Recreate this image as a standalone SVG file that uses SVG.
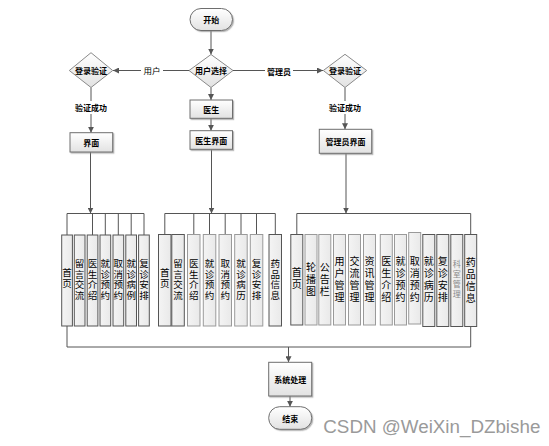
<svg xmlns="http://www.w3.org/2000/svg" width="549" height="446" viewBox="0 0 549 446">
<defs>
<linearGradient id="gBox" x1="0" y1="0" x2="0" y2="1"><stop offset="0" stop-color="#ffffff"/><stop offset="1" stop-color="#e2e2e2"/></linearGradient>
<linearGradient id="gCol" x1="0" y1="0" x2="1" y2="0"><stop offset="0" stop-color="#f4f4f4"/><stop offset="1" stop-color="#e9e9e9"/></linearGradient>
<filter id="sh" x="-20%" y="-20%" width="150%" height="150%"><feDropShadow dx="1.2" dy="1.2" stdDeviation="0.6" flood-color="#888" flood-opacity="0.6"/></filter>
<marker id="ar" markerWidth="6" markerHeight="6" refX="6" refY="3" orient="auto" markerUnits="userSpaceOnUse"><path d="M0,0 L6,3 L0,6 z" fill="#555"/></marker>
</defs>
<style>
.t{font-family:"Noto Sans CJK SC","Liberation Sans",sans-serif;font-size:8px;font-weight:bold;fill:#000;text-anchor:middle;dominant-baseline:central}
.l{font-family:"Noto Sans CJK SC","Liberation Sans",sans-serif;font-size:8px;font-weight:bold;fill:#000;text-anchor:middle;dominant-baseline:central}
.box{fill:url(#gBox);stroke:#6e6e6e;stroke-width:1;filter:url(#sh)}
.dia{fill:url(#gBox);stroke:#8a8a8a;stroke-width:1}
.col{fill:url(#gCol);stroke:#555;stroke-width:1}
.colg{fill:url(#gCol);stroke:#9a9a9a;stroke-width:1}
.v{font-family:"Noto Sans CJK SC","Liberation Sans",sans-serif;font-size:9.5px;letter-spacing:1px;fill:#000;text-anchor:middle;writing-mode:vertical-rl}
.w{font-family:"Noto Sans CJK SC","Liberation Sans",sans-serif;font-size:10px;letter-spacing:2px;fill:#000;text-anchor:middle;writing-mode:vertical-rl}
.c{fill:none;stroke:#555;stroke-width:1}
.ca{fill:none;stroke:#555;stroke-width:1;marker-end:url(#ar)}
</style>
<rect width="549" height="446" fill="#fff"/>
<g id="connectors">
<path class="ca" d="M211,30.5 V54.5"/>
<path class="ca" d="M189,70.5 H113"/>
<path class="ca" d="M233,70.5 H323"/>
<path class="ca" d="M211,87.5 V100"/>
<path class="ca" d="M211,118.3 V130.7"/>
<path class="ca" d="M211.5,149.3 V213.5"/>
<path class="ca" d="M91,87.5 V132.7"/>
<path class="ca" d="M90.5,152 V213.5"/>
<path class="ca" d="M345,87.5 V129.3"/>
<path class="ca" d="M346,153.3 V213.5"/>
<path class="c" d="M67,235 V213.5 H144 V235 M92.5,213.5 V235 M105.3,213.5 V235 M118.3,213.5 V235 M131.2,213.5 V235"/>
<path class="c" d="M164.8,234.5 V213.5 H275.3 V234.5 M193.8,213.5 V234.5 M209.5,213.5 V234.5 M225.2,213.5 V234.5 M241,213.5 V234.5 M256.5,213.5 V234.5"/>
<path class="c" d="M296.8,234.5 V213.5 H470.7 V234.5"/>
<path class="c" d="M67,326 V347 H470.7 V325"/>
<path class="ca" d="M288.5,347 V362.3"/>
<path class="ca" d="M290,396 V406.7"/>
<rect x="141" y="64" width="22" height="13" fill="#fff"/>
<text class="l" x="152" y="70" style="font-weight:normal;font-size:8.5px">用户</text>
<rect x="265" y="64" width="28" height="13" fill="#fff"/>
<text class="l" x="279" y="71">管理员</text>
<rect x="74" y="101" width="34" height="13" fill="#fff"/>
<text class="l" x="91" y="107.5">验证成功</text>
<rect x="328" y="101" width="34" height="13" fill="#fff"/>
<text class="l" x="345" y="107.5">验证成功</text>
</g>
<g id="start"><rect class="box" x="190" y="8.5" width="42.5" height="22" rx="11"/><text class="t" x="211.2" y="19.5">开始</text></g>
<g id="choose"><polygon class="dia" points="211,54.5 233,70.5 211,87.5 189,70.5"/><text class="t" x="211" y="70.5">用户选择</text></g>
<g id="login-user"><polygon class="dia" points="91,52.7 112.7,70.5 91,87.5 69.3,70.5"/><text class="t" x="91" y="70.5">登录验证</text></g>
<g id="login-admin"><polygon class="dia" points="345,54.3 366.7,70.5 345,87.5 323.3,70.5"/><text class="t" x="345" y="70.5">登录验证</text></g>
<g id="doctor"><rect class="box" x="190" y="100" width="42.5" height="18.3"/><text class="t" x="211.2" y="109">医生</text></g>
<g id="doctor-ui"><rect class="box" x="190" y="130.7" width="42.5" height="18.6"/><text class="t" x="211.2" y="140">医生界面</text></g>
<g id="user-ui"><rect class="box" x="70" y="132.7" width="42.7" height="19.3"/><text class="t" x="91.3" y="142.3">界面</text></g>
<g id="admin-ui"><rect class="box" x="319.3" y="129.3" width="52.4" height="24"/><text class="t" x="345.5" y="141.3">管理员界面</text></g>
<g id="user-cols">
<rect class="col" x="61.7" y="235" width="10.7" height="91"/><text class="v" x="67" y="278"><tspan>首</tspan><tspan>页</tspan></text>
<rect class="col" x="74.3" y="235" width="10.7" height="91"/><text class="v" x="79.6" y="280"><tspan>留</tspan><tspan>言</tspan><tspan>交</tspan><tspan>流</tspan></text>
<rect class="col" x="87.2" y="235" width="10.7" height="91"/><text class="v" x="92.5" y="280"><tspan>医</tspan><tspan>生</tspan><tspan>介</tspan><tspan>绍</tspan></text>
<rect class="col" x="100" y="235" width="10.7" height="91"/><text class="v" x="105.3" y="280"><tspan>就</tspan><tspan>诊</tspan><tspan>预</tspan><tspan>约</tspan></text>
<rect class="col" x="113" y="235" width="10.7" height="91"/><text class="v" x="118.3" y="280"><tspan>取</tspan><tspan>消</tspan><tspan>预</tspan><tspan>约</tspan></text>
<rect class="col" x="125.8" y="235" width="10.7" height="91"/><text class="v" x="131.2" y="280"><tspan>就</tspan><tspan>诊</tspan><tspan>病</tspan><tspan>例</tspan></text>
<rect class="col" x="138.6" y="235" width="10.7" height="91"/><text class="v" x="144" y="280"><tspan>复</tspan><tspan>诊</tspan><tspan>安</tspan><tspan>排</tspan></text>
</g>
<g id="doctor-cols">
<rect class="col" x="158.5" y="234.5" width="12.5" height="91.5"/><text class="v" x="164.8" y="278"><tspan>首</tspan><tspan>页</tspan></text>
<rect class="col" x="171.8" y="234.5" width="12.5" height="91.5"/><text class="v" x="178" y="280"><tspan>留</tspan><tspan>言</tspan><tspan>交</tspan><tspan>流</tspan></text>
<rect class="colg" x="187.5" y="234.5" width="12.5" height="91.5"/><text class="v" x="193.8" y="280"><tspan>医</tspan><tspan>生</tspan><tspan>介</tspan><tspan>绍</tspan></text>
<rect class="colg" x="203.3" y="234.5" width="12.5" height="91.5"/><text class="v" x="209.5" y="280"><tspan>就</tspan><tspan>诊</tspan><tspan>预</tspan><tspan>约</tspan></text>
<rect class="colg" x="219" y="234.5" width="12.5" height="91.5"/><text class="v" x="225.2" y="280"><tspan>取</tspan><tspan>消</tspan><tspan>预</tspan><tspan>约</tspan></text>
<rect class="colg" x="234.7" y="234.5" width="12.5" height="91.5"/><text class="v" x="241" y="280"><tspan>就</tspan><tspan>诊</tspan><tspan>病</tspan><tspan>历</tspan></text>
<rect class="colg" x="250.3" y="234.5" width="12.5" height="91.5"/><text class="v" x="256.5" y="280"><tspan>复</tspan><tspan>诊</tspan><tspan>安</tspan><tspan>排</tspan></text>
<rect class="col" x="269" y="234.5" width="12.5" height="91.5"/><text class="v" x="275.3" y="280"><tspan>药</tspan><tspan>品</tspan><tspan>信</tspan><tspan>息</tspan></text>
</g>
<g id="admin-cols">
<rect class="col" x="290.8" y="234.5" width="12" height="90.5"/><text class="w" x="296.8" y="279"><tspan>首</tspan><tspan>页</tspan></text>
<rect class="colg" x="305" y="234.5" width="12" height="90.5"/><text class="w" x="311" y="280"><tspan>轮</tspan><tspan>播</tspan><tspan>图</tspan></text>
<rect class="colg" x="318.8" y="234.5" width="12" height="90.5"/><text class="w" x="324.8" y="280"><tspan>公</tspan><tspan>告</tspan><tspan>栏</tspan></text>
<rect class="colg" x="333.5" y="234.5" width="12" height="90.5"/><text class="w" x="339.5" y="280"><tspan>用</tspan><tspan>户</tspan><tspan>管</tspan><tspan>理</tspan></text>
<rect class="colg" x="348.5" y="234.5" width="12" height="90.5"/><text class="w" x="354.5" y="280"><tspan>交</tspan><tspan>流</tspan><tspan>管</tspan><tspan>理</tspan></text>
<rect class="colg" x="363.5" y="234.5" width="12" height="90.5"/><text class="w" x="369.5" y="280"><tspan>资</tspan><tspan>讯</tspan><tspan>管</tspan><tspan>理</tspan></text>
<rect class="colg" x="380.3" y="234.5" width="12" height="90.5"/><text class="w" x="386.3" y="280"><tspan>医</tspan><tspan>生</tspan><tspan>介</tspan><tspan>绍</tspan></text>
<rect class="colg" x="394.5" y="234.5" width="12" height="90.5"/><text class="w" x="400.5" y="280"><tspan>就</tspan><tspan>诊</tspan><tspan>预</tspan><tspan>约</tspan></text>
<rect class="colg" x="408.7" y="232.5" width="12" height="91.5"/><text class="w" x="414.7" y="280"><tspan>取</tspan><tspan>消</tspan><tspan>预</tspan><tspan>约</tspan></text>
<rect class="col" x="422.8" y="234.5" width="12" height="92"/><text class="w" x="428.8" y="280"><tspan>就</tspan><tspan>诊</tspan><tspan>病</tspan><tspan>历</tspan></text>
<rect class="col" x="436.8" y="234.5" width="12" height="92"/><text class="w" x="442.8" y="280"><tspan>复</tspan><tspan>诊</tspan><tspan>安</tspan><tspan>排</tspan></text>
<rect class="col" x="450.8" y="234.5" width="12" height="92"/><text class="w" x="456.8" y="280" style="font-size:8px;fill:#8a8a8a"><tspan>科</tspan><tspan>室</tspan><tspan>管</tspan><tspan>理</tspan></text>
<rect class="col" x="464.7" y="234.5" width="12" height="92"/><text class="w" x="470.7" y="281"><tspan>药</tspan><tspan>品</tspan><tspan>信</tspan><tspan>息</tspan></text>
</g>
<g id="process"><rect class="box" x="268.7" y="362.3" width="43" height="33.7"/><text class="t" x="290.2" y="379">系统处理</text></g>
<g id="end"><rect class="box" x="268.7" y="406.7" width="43" height="22.6" rx="11"/><text class="t" x="290.2" y="418">结束</text></g>
<text x="323.3" y="433.3" style="font-family:'Liberation Sans',Arial,sans-serif;font-size:18.8px;fill:#9a9a9a">CSDN @WeiXin_DZbishe</text>
</svg>
